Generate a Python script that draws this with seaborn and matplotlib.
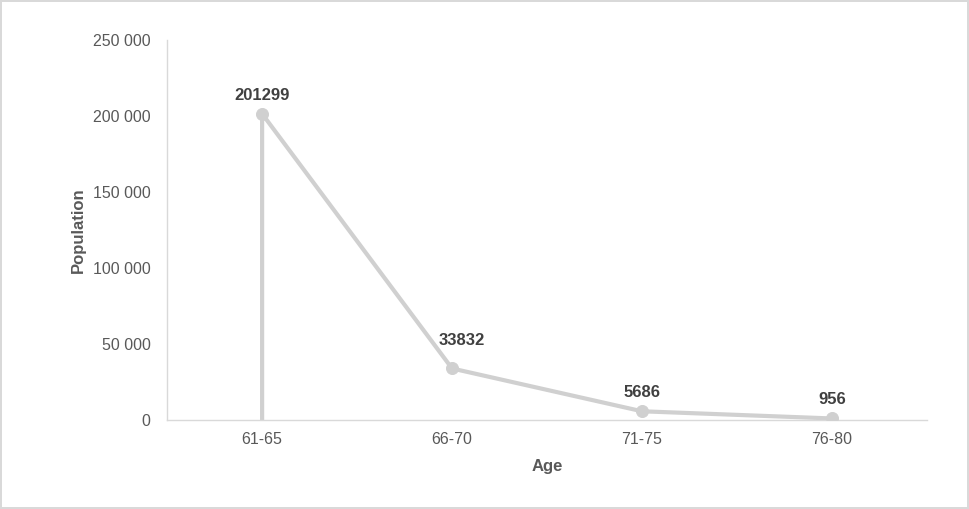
import pandas as pd
import numpy as np
import matplotlib
matplotlib.use('Agg')
import matplotlib.pyplot as plt
import seaborn as sns

ages = ['61-65', '66-70', '71-75', '76-80']
population = [201299, 33832, 5686, 956]
# the line in the reference starts at 0 under the first group
start_value = 0

sns.set_theme(style='white')
plt.rcParams['font.family'] = ['Liberation Sans', 'DejaVu Sans']

df = pd.DataFrame({'pos': np.arange(len(ages)), 'Population': population})
line_df = pd.concat([pd.DataFrame({'pos': [0], 'Population': [start_value]}), df], ignore_index=True)

fig = plt.figure(figsize=(9.69, 5.09), dpi=100)
fig.patch.set_edgecolor('#d9d9d9')
fig.patch.set_linewidth(1.5)
ax = fig.add_axes([0.1725, 0.175, 0.784, 0.747])

grey = '#d0d0d0'
sns.lineplot(data=line_df, x='pos', y='Population', sort=False, estimator=None, errorbar=None,
             color=grey, linewidth=3, ax=ax)
sns.scatterplot(data=df, x='pos', y='Population', color=grey, s=75, edgecolor=grey, zorder=3, ax=ax)

# the 66-70 label sits a little higher and to the right, off the line
offsets = [(0, 8), (7, 15), (0, 8), (0, 8)]
for x, v, off in zip(df['pos'], df['Population'], offsets):
    ax.annotate(str(v), (x, v), xytext=off, textcoords='offset points', ha='center', va='bottom',
                fontsize=12, fontweight='bold', color='#404040')

ax.set_xlim(-0.5, len(ages) - 0.5)
ax.set_ylim(0, 250000)
ax.set_xticks(range(len(ages)))
ax.set_xticklabels(ages)
ax.set_yticks(range(0, 250001, 50000))
ax.set_yticklabels(['0' if t == 0 else f'{t // 1000} 000' for t in range(0, 250001, 50000)])
ax.tick_params(axis='both', colors='#595959', labelsize=11.5, length=0, pad=9)
ax.tick_params(axis='y', pad=12)

for s in ['top', 'right']:
    ax.spines[s].set_visible(False)
for s in ['left', 'bottom']:
    ax.spines[s].set_color('#d9d9d9')
    ax.spines[s].set_linewidth(1)

ax.set_xlabel('Age', fontsize=12, fontweight='bold', color='#595959', labelpad=8)
ax.set_ylabel('Population', fontsize=12, fontweight='bold', color='#595959', labelpad=5)

fig.savefig('out.png', dpi=100)
